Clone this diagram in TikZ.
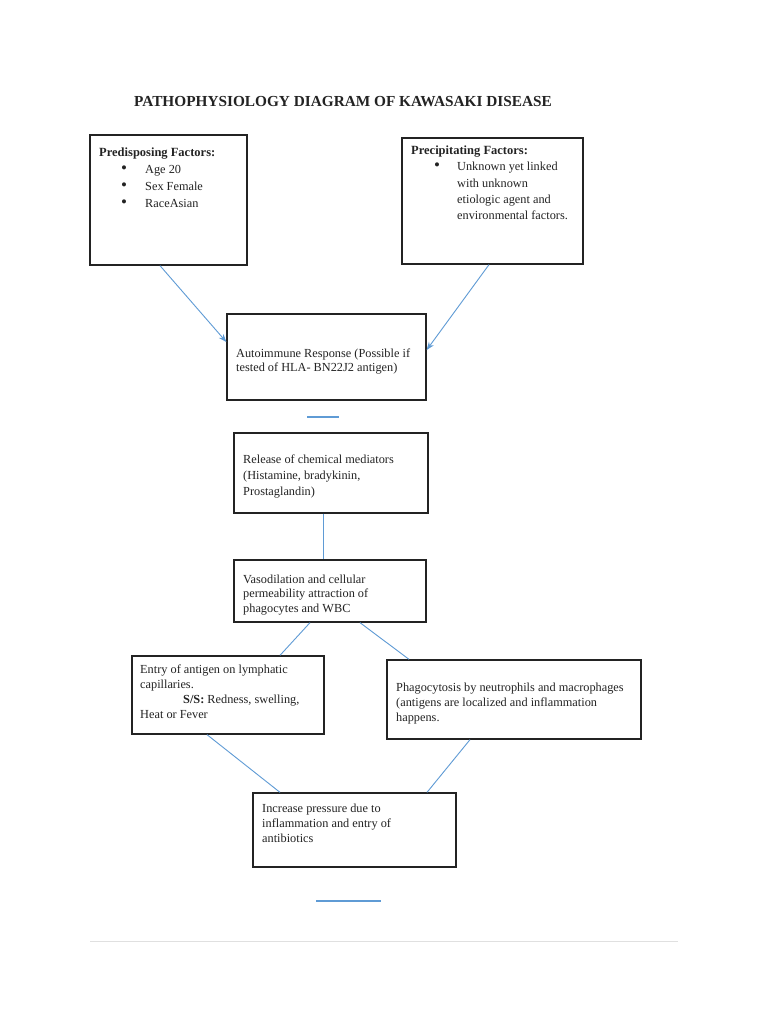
\documentclass[tikz,border=0pt]{standalone}
\usepackage{fontspec}
\setmainfont{Liberation Serif}
\usetikzlibrary{arrows.meta,calc}
\definecolor{linkblue}{RGB}{95,155,213}
\definecolor{inkgray}{RGB}{35,35,35}
\begin{document}
\begin{tikzpicture}[x=1pt,y=-1pt,
  box/.style={draw=inkgray,line width=1.3pt,inner sep=0pt},
  txt/.style={anchor=north west,inner sep=0pt,align=left,text=inkgray,font=\fontsize{12.3}{15}\selectfont},
  bul/.style={anchor=center,inner sep=0pt,text=inkgray,font=\fontsize{17}{15}\selectfont},
  link/.style={draw=linkblue,line width=0.9pt},
  arr/.style={link,-{Stealth[length=8pt,width=6pt]}}]
\useasboundingbox[fill=white] (0,0) rectangle (768,1024);

% title
\node[inner sep=0pt,text=inkgray,font=\fontsize{15.3}{18}\selectfont\bfseries] (title) at (343,102) {PATHOPHYSIOLOGY DIAGRAM OF KAWASAKI DISEASE};

% boxes
\node[box,minimum width=157pt,minimum height=130pt] (pre) at (168.5,200) {};
\node[box,minimum width=181pt,minimum height=126pt] (prec) at (492.5,201) {};
\node[box,minimum width=199pt,minimum height=86pt] (auto) at (326.5,357) {};
\node[box,minimum width=194pt,minimum height=80pt] (rel) at (331,473) {};
\node[box,minimum width=192pt,minimum height=62pt] (vaso) at (330,591) {};
\node[box,minimum width=192pt,minimum height=78pt] (entry) at (228,695) {};
\node[box,minimum width=254pt,minimum height=79pt] (phago) at (514,699.5) {};
\node[box,minimum width=203pt,minimum height=74pt] (inc) at (354.5,830) {};

% predisposing text
\node[txt,font=\fontsize{12.5}{15}\selectfont\bfseries] (pret) at (99,148) {Predisposing Factors:};
\node[bul] (pb1) at (124,170) {•};
\node[bul] (pb2) at (124,187) {•};
\node[bul] (pb3) at (124,204) {•};
\node[txt] (pt1) at (145,165) {Age 20};
\node[txt] (pt2) at (145,182) {Sex Female};
\node[txt] (pt3) at (145,199) {RaceAsian};

% precipitating text
\node[txt,font=\fontsize{12.5}{15}\selectfont\bfseries] (prect) at (411,146) {Precipitating Factors:};
\node[bul] (qb1) at (437,167) {•};
\node[txt,font=\fontsize{12.3}{16.4}\selectfont] (qt1) at (457,162) {Unknown yet linked\\with unknown\\etiologic agent and\\environmental factors.};

% box texts
\node[txt,font=\fontsize{12.3}{14}\selectfont] (autot) at (236,348.5) {Autoimmune Response (Possible if\\tested of HLA- BN22J2 antigen)};
\node[txt,font=\fontsize{12.3}{16}\selectfont] (relt) at (243,454.5) {Release of chemical mediators\\(Histamine, bradykinin,\\Prostaglandin)};
\node[txt,font=\fontsize{12.3}{14.5}\selectfont] (vasot) at (243,574.5) {Vasodilation and cellular\\permeability attraction of\\phagocytes and WBC};
\node[txt] (entryt) at (140,664.5) {Entry of antigen on lymphatic\\capillaries.\\\hspace*{43pt}\textbf{S/S:} Redness, swelling,\\Heat or Fever};
\node[txt] (phagot) at (396,682.5) {Phagocytosis by neutrophils and macrophages\\(antigens are localized and inflammation\\happens.};
\node[txt] (inct) at (262,803.5) {Increase pressure due to\\inflammation and entry of\\antibiotics};

% connectors
\draw[arr] ($(pre.south)+(-8.5,0)$) -- ($(auto.west)+(0,-15)$);
\draw[arr] ($(prec.south)+(-3.5,0)$) -- ($(auto.east)+(0,-7)$);
\draw[link] ($(rel.south)+(-8,0)$) -- ($(vaso.north)+(-7,0)$);
\draw[link] ($(vaso.south)+(-20,0)$) -- ($(entry.north)+(52,0)$);
\draw[link] ($(vaso.south)+(30,0)$) -- ($(phago.north)+(-105,0)$);
\draw[link] ($(entry.south)+(-21,0)$) -- ($(inc.north)+(-74.5,0)$);
\draw[link] ($(phago.south)+(-44,0)$) -- ($(inc.north)+(72.5,0)$);

% stray segments
\coordinate (s1a) at (307,417);
\coordinate (s1b) at (339,417);
\draw[link,line width=1.1pt] (s1a) -- (s1b);
\coordinate (s2a) at (316,901);
\coordinate (s2b) at (381,901);
\draw[link,line width=1.1pt] (s2a) -- (s2b);
\coordinate (g1) at (90,941);
\coordinate (g2) at (678,941);
\draw[draw=black!12,line width=0.8pt] (g1) -- (g2);
\end{tikzpicture}
\end{document}
